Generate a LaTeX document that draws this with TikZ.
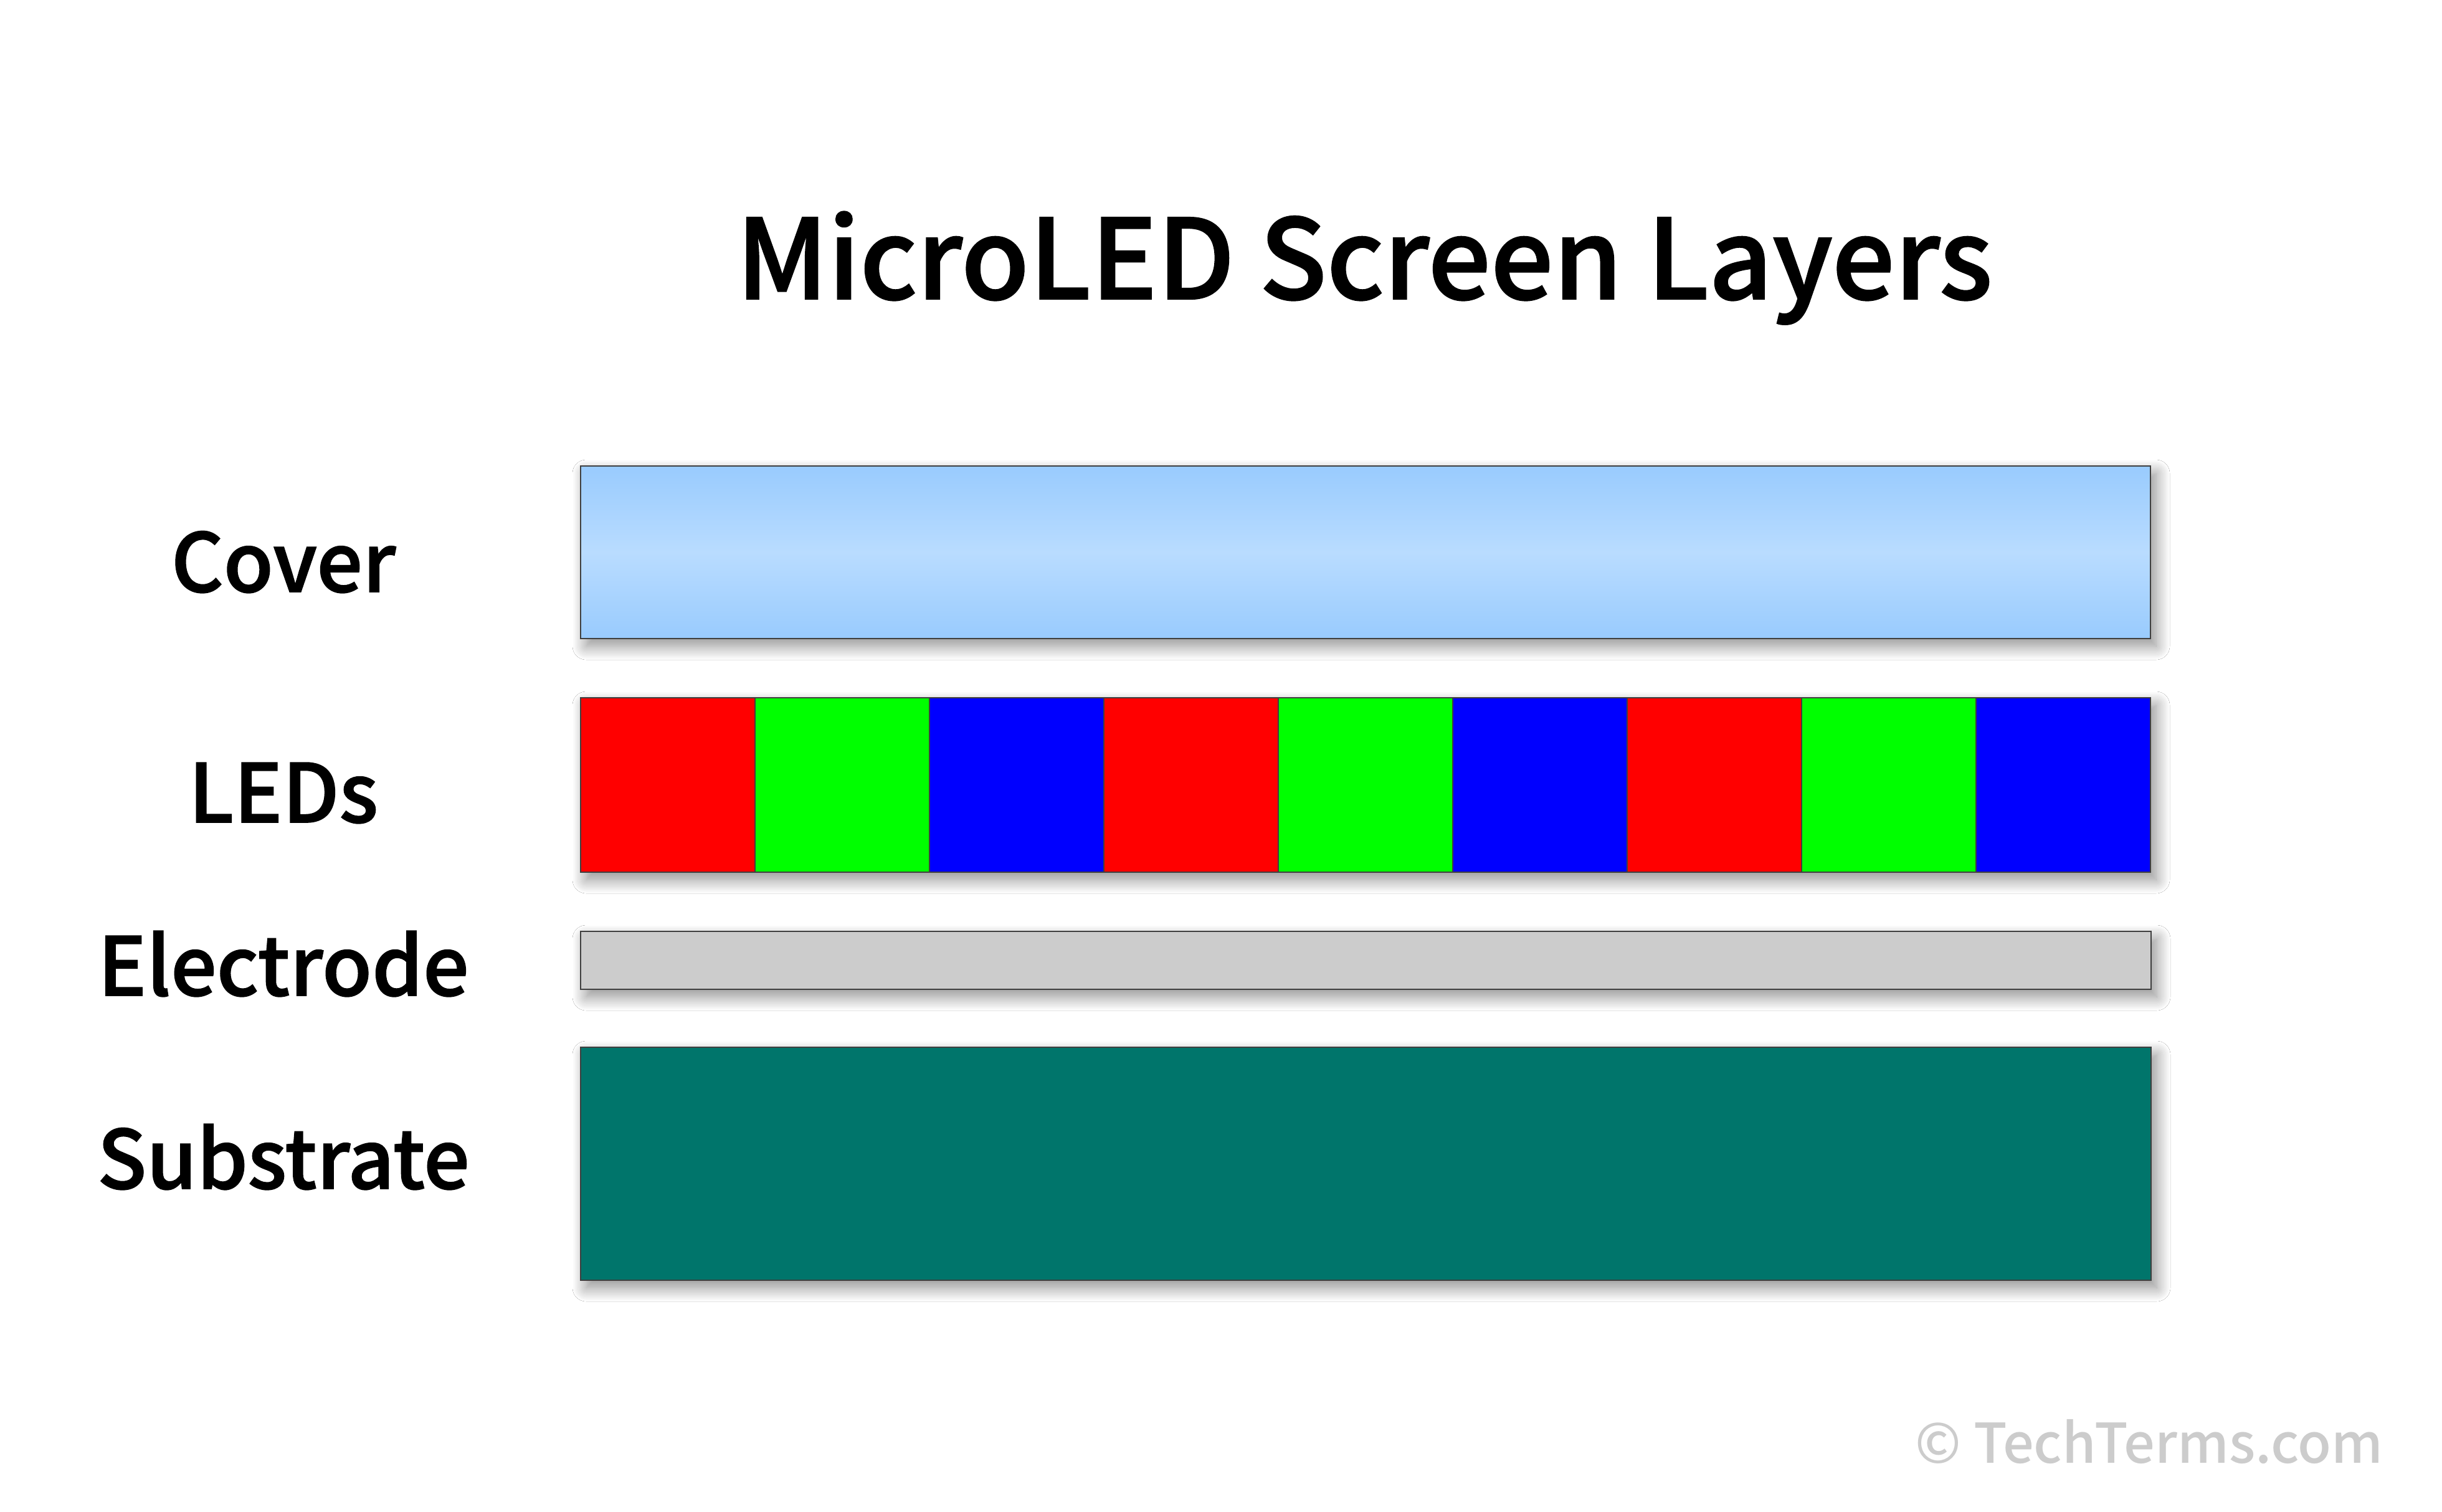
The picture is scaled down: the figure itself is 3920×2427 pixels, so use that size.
\documentclass[tikz,border=0pt]{standalone}
\usepackage{fontspec}
\setmainfont{Noto Sans CJK SC}
\newfontfamily\semib[FakeBold=1.3]{Noto Sans CJK SC Medium}
\newfontfamily\markfont{Noto Sans CJK SC Medium}
\usetikzlibrary{shadows.blur}
\definecolor{edgegray}{HTML}{3F3F3F}
\definecolor{glassA}{HTML}{99CBFE}
\definecolor{glassB}{HTML}{B9DCFF}
\definecolor{ledR}{HTML}{FF0000}
\definecolor{ledG}{HTML}{00FF00}
\definecolor{ledB}{HTML}{0000FF}
\definecolor{electrodegray}{HTML}{CCCCCC}
\definecolor{substrateteal}{HTML}{00756B}
\definecolor{markgray}{HTML}{CCCCCC}
\tikzset{
  layer/.style={draw=edgegray, line width=0.6pt},
  softshadow/.style={blur shadow={shadow xshift=0.09cm, shadow yshift=-0.12cm, shadow blur radius=0.22cm, shadow opacity=45, shadow blur steps=20}},
  label/.style={anchor=base, font=\semib\fontsize{37}{44}\selectfont, inner sep=0pt},
  cell/.style={layer, anchor=north west, minimum width=2.8cm, minimum height=2.8cm, inner sep=0pt, outer sep=0pt}
}
\begin{document}
\begin{tikzpicture}[x=0.01cm, y=-0.01cm]
\useasboundingbox[fill=white] (0,0) rectangle (3920,2427);
% title
\node[anchor=base, font=\semib\fontsize{50.5}{60}\selectfont, inner sep=0pt] (title) at (2190,480) {MicroLED Screen Layers};
% cover
\path[layer, softshadow, top color=glassA, bottom color=glassA, middle color=glassB] (932,748) rectangle (3452,1025);
% LEDs
\path[softshadow, fill=white] (932,1120) rectangle (3452,1400);
\foreach \i/\c in {0/ledR,1/ledG,2/ledB,3/ledR,4/ledG,5/ledB,6/ledR,7/ledG,8/ledB}{
  \node[cell, fill=\c] (led\i) at ({932+280*\i},1120) {};
}
% electrode
\path[layer, softshadow, fill=electrodegray] (932,1495) rectangle (3453,1588);
% substrate
\path[layer, softshadow, fill=substrateteal] (932,1681) rectangle (3453,2055);
% labels
\node[label] (lcover) at (455,950) {Cover};
\node[label] (lleds) at (455,1320) {LEDs};
\node[label] (lelec) at (455,1598) {Electrode};
\node[label] (lsub) at (455,1908) {Substrate};
% watermark
\node[anchor=base east, font=\markfont\fontsize{25}{30}\selectfont, text=markgray, inner sep=0pt] (mark) at (3826,2348) {© TechTerms.com};
\end{tikzpicture}
\end{document}
